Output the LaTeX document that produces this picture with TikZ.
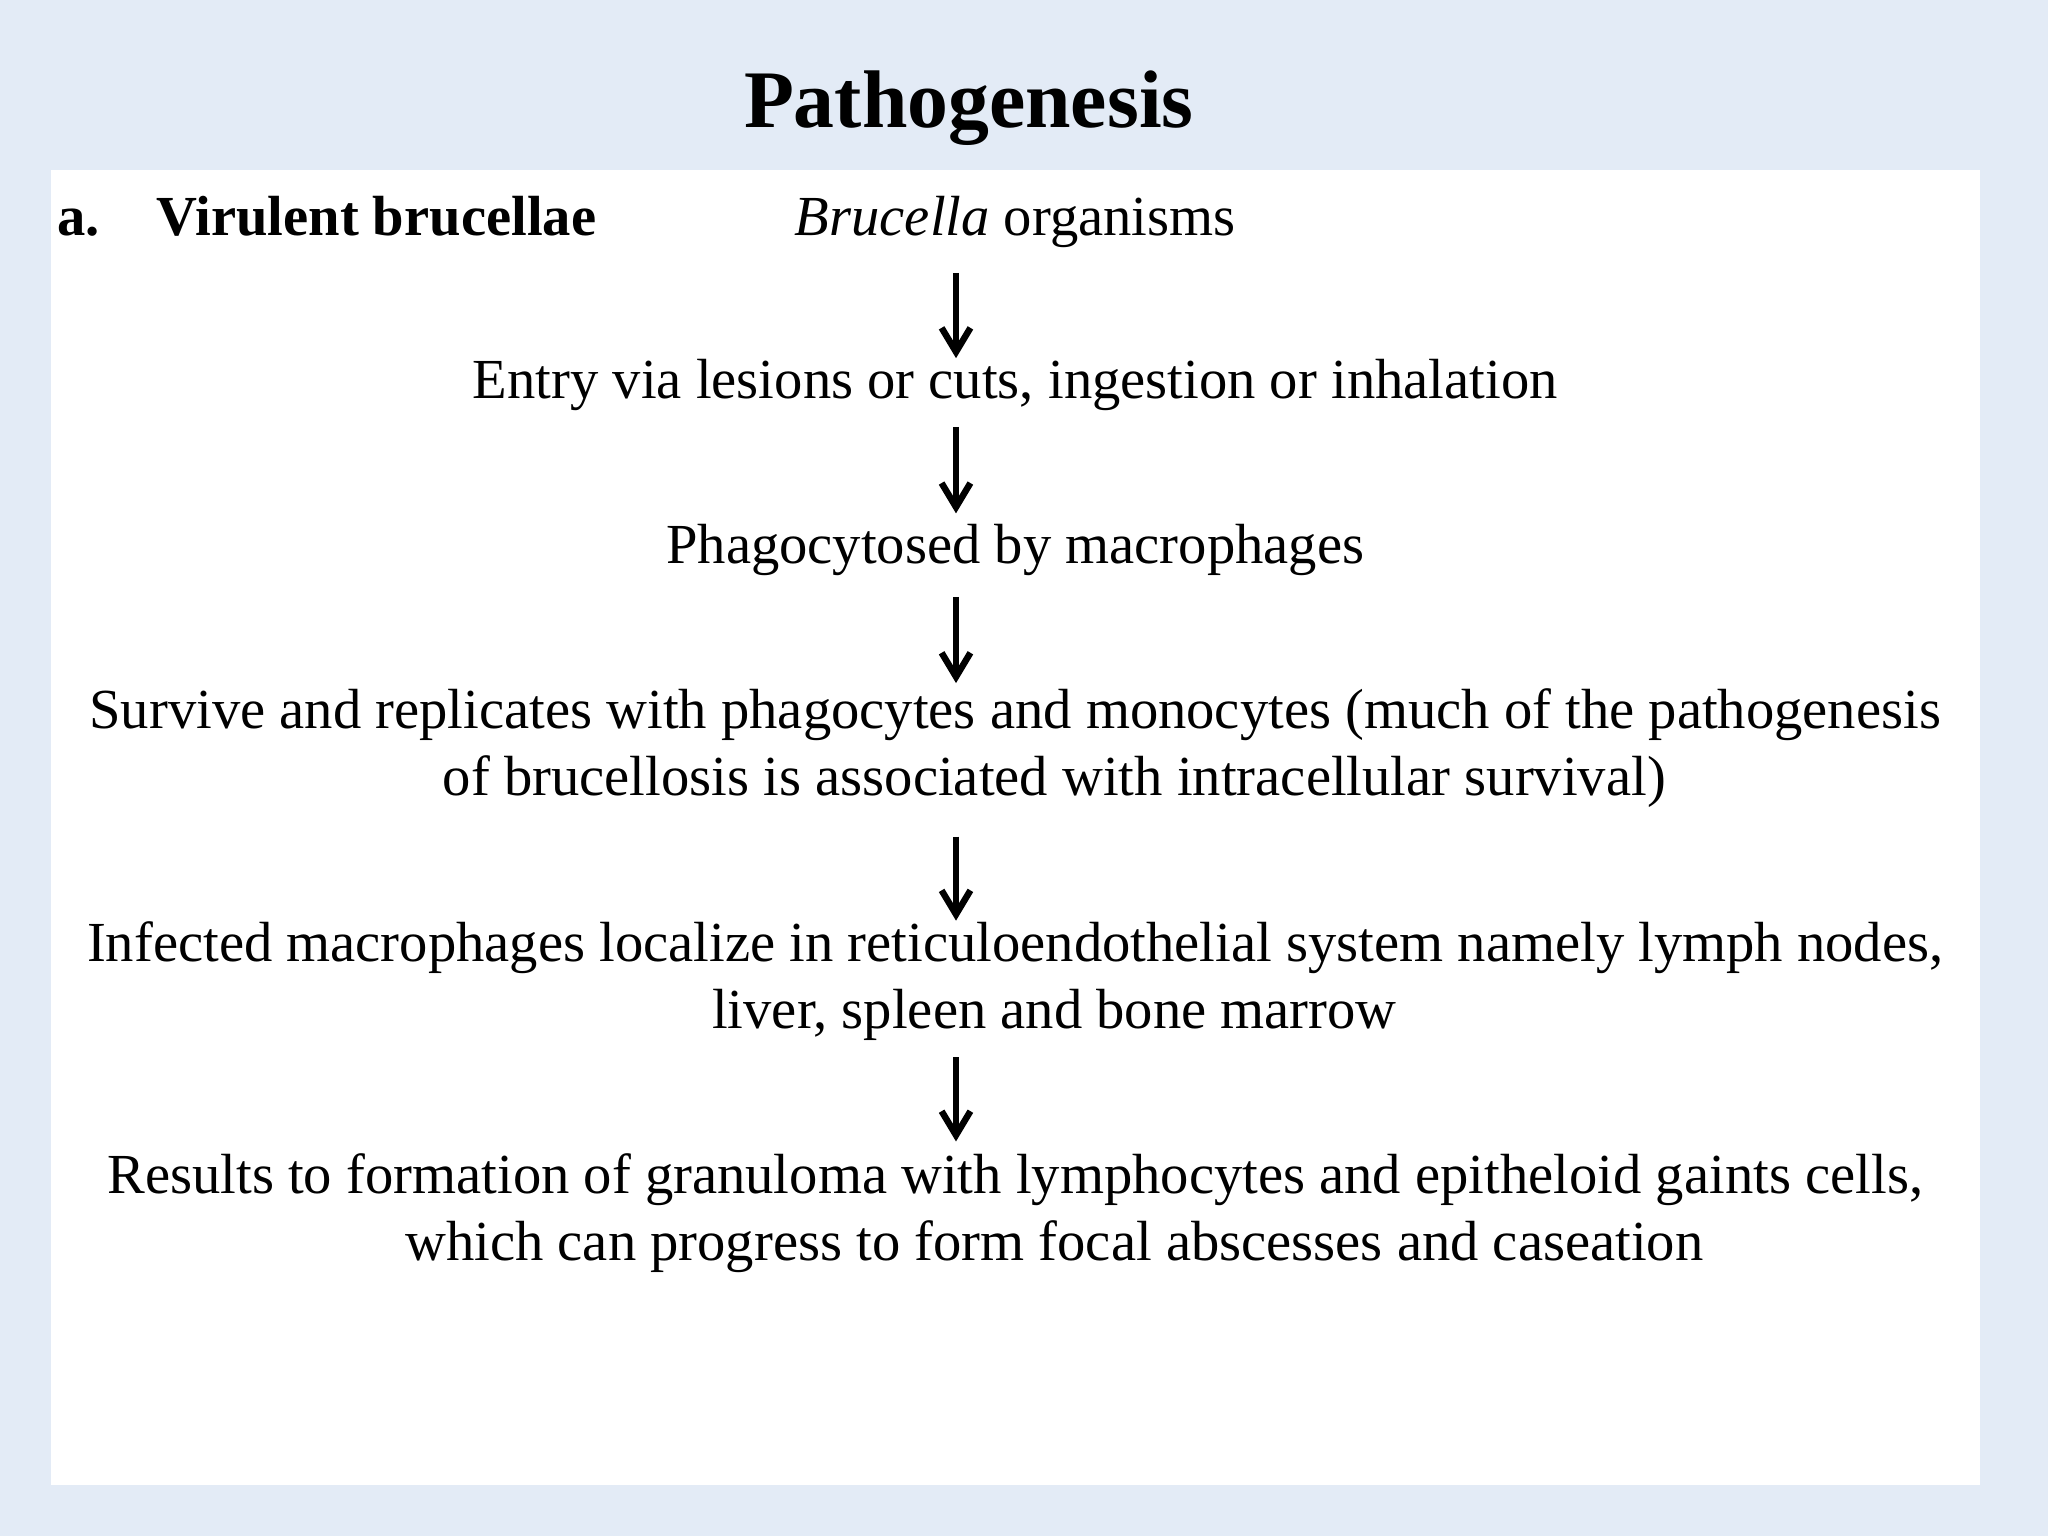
\documentclass[tikz,border=0pt]{standalone}
\usepackage{fontspec}
\setmainfont{Liberation Serif}
\usepackage{xcolor}
\usepackage{tikz}
\usetikzlibrary{positioning,calc,arrows.meta}
\definecolor{slidebg}{RGB}{227,235,246}

\begin{document}
\begin{tikzpicture}[
    txt/.style={inner sep=0pt, align=center, anchor=base, font=\fontsize{20.13}{23.8}\selectfont},
    heading/.style={inner sep=0pt, anchor=base west, font=\fontsize{20.13}{23.8}\selectfont\bfseries},
    arrow/.style={-{Straight Barb[length=0.3cm, width=0.36cm]}, line width=2.3pt}
]

% Slide background and white panel
\fill[slidebg] (0,0) rectangle (25.6,-19.2);
\fill[white] (0.6375,-2.125) rectangle (24.75,-18.5625);

% Title
\node[inner sep=0pt, anchor=base, font=\fontsize{29.07}{34}\selectfont\bfseries] (title) at (12.11,-1.59) {Pathogenesis};

% Heading
\node[heading] (lbla) at (0.71,-2.945) {a.};
\node[heading] (virulent) at (1.95,-2.945) {Virulent brucellae};

% Flow steps (multi-line nodes sit on their last line)
\node[txt] (org) at (12.69,-2.94) {\textit{Brucella} organisms};
\node[txt] (entry) at (12.69,-4.975) {Entry via lesions or cuts, ingestion or inhalation};
\node[txt] (phago) at (12.69,-7.04) {Phagocytosed by macrophages};
\node[txt] (survive) at (12.69,-9.94) {Survive and replicates with phagocytes and monocytes (much of the pathogenesis\\\hspace*{0.98cm}of brucellosis is associated with intracellular survival)};
\node[txt] (infected) at (12.69,-12.85) {Infected macrophages localize in reticuloendothelial system namely lymph nodes,\\\hspace*{0.98cm}liver, spleen and bone marrow};
\node[txt] (results) at (12.69,-15.75) {Results to formation of granuloma with lymphocytes and epitheloid gaints cells,\\\hspace*{0.98cm}which can progress to form focal abscesses and caseation};

% Arrows
\coordinate (ax) at (11.95,0);
\draw[arrow, shorten <=0.31cm, shorten >=0cm] (org.south -| ax) -- (entry.north -| ax);
\draw[arrow, shorten <=0.2cm, shorten >=0.125cm] (entry.south -| ax) -- (phago.north -| ax);
\draw[arrow, shorten <=0.26cm, shorten >=0.06cm] (phago.south -| ax) -- (survive.north -| ax);
\draw[arrow, shorten <=0.36cm, shorten >=0cm] (survive.south -| ax) -- (infected.north -| ax);
\draw[arrow, shorten <=0.21cm, shorten >=0.14cm] (infected.south -| ax) -- (results.north -| ax);

\end{tikzpicture}
\end{document}
